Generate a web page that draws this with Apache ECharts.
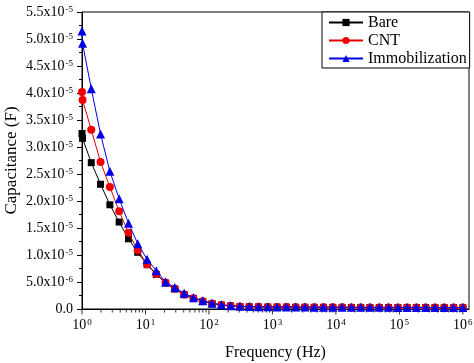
<!DOCTYPE html>
<html><head><meta charset="utf-8">
<script src="https://cdn.jsdelivr.net/npm/echarts@6/dist/echarts.min.js"></script>
<style>html,body{margin:0;padding:0;background:#fff}#c{width:474px;height:363px}</style>
</head><body><div id="c"></div>
<script>
const frequency = [1, 1.02, 1.40, 1.96, 2.75, 3.85, 5.40, 7.55, 10.6, 14.8, 20.7, 29.0, 40.7, 57.0, 79.8,
  112, 157, 219, 308, 431, 603, 845, 1183, 1660, 2323, 3251, 4560, 6383, 8933,
  12530, 17540, 24550, 34430, 48190, 67450, 94620, 132400, 185400, 260000, 363900, 509300, 714500, 1000000];
const bare = [3.25e-5, 3.16e-5, 2.71e-5, 2.31e-5, 1.93e-5, 1.61e-5, 1.30e-5, 1.05e-5, 0.82e-5, 0.64e-5, 0.48e-5,
  0.37e-5, 0.265e-5, 0.195e-5, 0.14e-5, 0.10e-5, 0.072e-5, 0.056e-5, 0.046e-5, 0.041e-5, 0.038e-5,
  0.036e-5, 0.035e-5, 0.034e-5, 0.033e-5, 0.032e-5, 0.031e-5, 0.031e-5, 0.030e-5, 0.030e-5, 0.029e-5, 0.029e-5,
  0.028e-5, 0.028e-5, 0.028e-5, 0.027e-5, 0.027e-5, 0.027e-5, 0.026e-5, 0.026e-5, 0.026e-5, 0.025e-5, 0.025e-5];
const cnt = [4.02e-5, 3.87e-5, 3.32e-5, 2.72e-5, 2.26e-5, 1.81e-5, 1.41e-5, 1.09e-5, 0.83e-5, 0.65e-5, 0.49e-5,
  0.375e-5, 0.27e-5, 0.20e-5, 0.145e-5, 0.102e-5, 0.075e-5, 0.058e-5, 0.048e-5, 0.043e-5, 0.040e-5,
  0.038e-5, 0.036e-5, 0.035e-5, 0.034e-5, 0.033e-5, 0.032e-5, 0.032e-5, 0.031e-5, 0.031e-5, 0.030e-5, 0.030e-5,
  0.029e-5, 0.029e-5, 0.029e-5, 0.028e-5, 0.028e-5, 0.028e-5, 0.027e-5, 0.027e-5, 0.027e-5, 0.026e-5, 0.026e-5];
const immobilization = [5.15e-5, 4.92e-5, 4.08e-5, 3.24e-5, 2.55e-5, 2.04e-5, 1.59e-5, 1.21e-5, 0.92e-5, 0.71e-5, 0.50e-5,
  0.40e-5, 0.29e-5, 0.21e-5, 0.153e-5, 0.108e-5, 0.078e-5, 0.060e-5, 0.050e-5, 0.045e-5, 0.042e-5,
  0.040e-5, 0.038e-5, 0.037e-5, 0.036e-5, 0.035e-5, 0.034e-5, 0.034e-5, 0.033e-5, 0.033e-5, 0.032e-5, 0.032e-5,
  0.031e-5, 0.031e-5, 0.031e-5, 0.030e-5, 0.030e-5, 0.030e-5, 0.029e-5, 0.029e-5, 0.029e-5, 0.028e-5, 0.028e-5];
const seriesNames = ['Bare', 'CNT', 'Immobilization'];
const xTickExponents = [0, 1, 2, 3, 4, 5, 6];
const xMinorMultipliers = [2, 3, 4, 5, 6, 7, 8, 9];
const yMin = 0, yMax = 5.5e-5, yInterval = 5e-6;

const FONT = '"Liberation Serif", "Times New Roman", serif';
const pair = (xs, ys) => xs.map((x, i) => [x, ys[i]]);
const majorTicks = xTickExponents.map(e => [Math.pow(10, e), 0]);
const minorTicks = [];
xTickExponents.slice(0, -1).forEach(e => xMinorMultipliers.forEach(m => minorTicks.push([m * Math.pow(10, e), 0])));

const rich = {
  m: { fontFamily: FONT, fontSize: 14, color: '#000' },
  s: { fontFamily: FONT, fontSize: 9, color: '#000', verticalAlign: 'top', padding: [0, 0, 0, 1] }
};

function xLabel(v) {
  const e = Math.round(Math.log10(v));
  if (Math.abs(Math.pow(10, e) - v) / v > 1e-6) return '';
  return '{m|10}{s|' + e + '}';
}
function yLabel(v) {
  if (Math.abs(v) < 1e-15) return '{m|0.0}';
  const e = Math.floor(Math.log10(v) + 1e-9);
  const m = v / Math.pow(10, e);
  return '{m|' + m.toFixed(1) + 'x10}{s|' + e + '}';
}

const chart = echarts.init(document.getElementById('c'), null, { renderer: 'canvas' });
const tickSeries = (data, len) => ({
  type: 'scatter', data, symbol: 'rect', symbolSize: [1, len], symbolOffset: [0, len / 2 + 0.5],
  itemStyle: { color: '#000' }, silent: true, clip: false, z: 1, animation: false, tooltip: { show: false }
});
chart.setOption({
  animation: false,
  backgroundColor: '#fff',
  grid: { left: 82, right: 5, top: 12, bottom: 54, show: true, borderColor: '#000', borderWidth: 1,
    backgroundColor: 'transparent', containLabel: false, outerBoundsMode: 'none' },
  legend: {
    data: seriesNames, orient: 'vertical', left: 322, top: 12,
    itemWidth: 34, itemHeight: 9, itemGap: 1, padding: [2, 3, 1, 6],
    borderColor: '#000', borderWidth: 1, backgroundColor: '#fff', borderRadius: 0,
    textStyle: { fontFamily: FONT, fontSize: 16, color: '#000', lineHeight: 17 }
  },
  xAxis: {
    type: 'log', logBase: 10, min: 1, max: 1.25e6,
    name: 'Frequency (Hz)', nameLocation: 'middle', nameGap: 36, nameMoveOverlap: false,
    nameTextStyle: { fontFamily: FONT, fontSize: 16, color: '#000' },
    axisLine: { lineStyle: { color: '#000', width: 1 } },
    axisTick: { show: false },
    splitLine: { show: false },
    axisLabel: { formatter: xLabel, rich, margin: 9, showMinLabel: true, showMaxLabel: true }
  },
  yAxis: {
    type: 'value', min: yMin, max: yMax, interval: yInterval,
    name: 'Capacitance (F)', nameLocation: 'middle', nameGap: 62, nameMoveOverlap: false,
    nameTextStyle: { fontFamily: FONT, fontSize: 17, color: '#000' },
    axisLine: { show: true, lineStyle: { color: '#000', width: 1 } },
    axisTick: { show: true, inside: false, length: 5, lineStyle: { color: '#000' } },
    minorTick: { show: true, splitNumber: 2, length: 3, lineStyle: { color: '#000' } },
    splitLine: { show: false },
    axisLabel: { formatter: yLabel, rich, margin: 9 }
  },
  series: [
    tickSeries(majorTicks, 5),
    tickSeries(minorTicks, 3),
    {
      name: seriesNames[0], type: 'line', data: pair(frequency, bare),
      symbol: 'rect', symbolSize: 7, showAllSymbol: true,
      itemStyle: { color: '#000' }, lineStyle: { color: '#000', width: 1 }, z: 3
    },
    {
      name: seriesNames[1], type: 'line', data: pair(frequency, cnt),
      symbol: 'circle', symbolSize: 8, showAllSymbol: true,
      itemStyle: { color: '#f00000' }, lineStyle: { color: '#e00000', width: 1 }, z: 4
    },
    {
      name: seriesNames[2], type: 'line', data: pair(frequency, immobilization),
      symbol: 'triangle', symbolSize: 9, showAllSymbol: true,
      itemStyle: { color: '#0000e6' }, lineStyle: { color: '#0000e6', width: 1 }, z: 5
    }
  ]
});
</script></body></html>
